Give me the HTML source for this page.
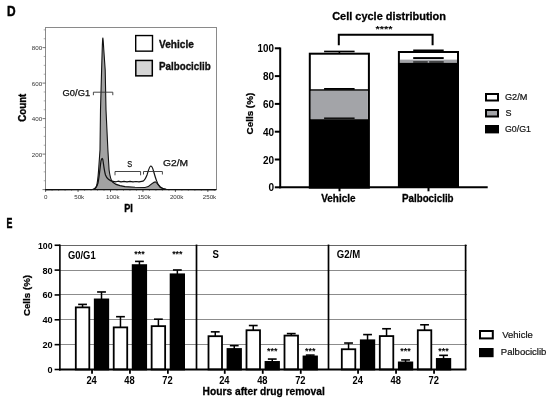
<!DOCTYPE html>
<html><head><meta charset="utf-8"><title>Cell cycle figure</title>
<style>
html,body{margin:0;padding:0;background:#fff;width:550px;height:399px;overflow:hidden;}
svg{display:block;}
text{font-family:"Liberation Sans", Arial, sans-serif;}
</style></head>
<body>
<svg width="550" height="399" viewBox="0 0 550 399">
<rect width="550" height="399" fill="#fff"/>
<g id="D">
<text x="6.9" y="15.9" font-size="14.2" font-weight="bold" text-anchor="start" fill="#000" textLength="8.6" lengthAdjust="spacingAndGlyphs" stroke="#000" stroke-width="0.45">D</text>
<rect x="45.5" y="27.5" width="171.0" height="162.1" fill="none" stroke="#8a8a8a" stroke-width="1"/>
<line x1="42.5" y1="189.60" x2="45.5" y2="189.60" stroke="#555" stroke-width="0.8"/>
<line x1="43.7" y1="180.72" x2="45.5" y2="180.72" stroke="#777" stroke-width="0.6"/>
<line x1="43.7" y1="171.85" x2="45.5" y2="171.85" stroke="#777" stroke-width="0.6"/>
<line x1="43.7" y1="162.97" x2="45.5" y2="162.97" stroke="#777" stroke-width="0.6"/>
<line x1="42.5" y1="154.10" x2="45.5" y2="154.10" stroke="#555" stroke-width="0.8"/>
<text x="42.2" y="156.7" font-size="6.2" text-anchor="end" fill="#333">200</text>
<line x1="43.7" y1="145.22" x2="45.5" y2="145.22" stroke="#777" stroke-width="0.6"/>
<line x1="43.7" y1="136.35" x2="45.5" y2="136.35" stroke="#777" stroke-width="0.6"/>
<line x1="43.7" y1="127.47" x2="45.5" y2="127.47" stroke="#777" stroke-width="0.6"/>
<line x1="42.5" y1="118.60" x2="45.5" y2="118.60" stroke="#555" stroke-width="0.8"/>
<text x="42.2" y="121.19999999999999" font-size="6.2" text-anchor="end" fill="#333">400</text>
<line x1="43.7" y1="109.72" x2="45.5" y2="109.72" stroke="#777" stroke-width="0.6"/>
<line x1="43.7" y1="100.85" x2="45.5" y2="100.85" stroke="#777" stroke-width="0.6"/>
<line x1="43.7" y1="91.97" x2="45.5" y2="91.97" stroke="#777" stroke-width="0.6"/>
<line x1="42.5" y1="83.10" x2="45.5" y2="83.10" stroke="#555" stroke-width="0.8"/>
<text x="42.2" y="85.69999999999999" font-size="6.2" text-anchor="end" fill="#333">600</text>
<line x1="43.7" y1="74.22" x2="45.5" y2="74.22" stroke="#777" stroke-width="0.6"/>
<line x1="43.7" y1="65.35" x2="45.5" y2="65.35" stroke="#777" stroke-width="0.6"/>
<line x1="43.7" y1="56.47" x2="45.5" y2="56.47" stroke="#777" stroke-width="0.6"/>
<line x1="42.5" y1="47.60" x2="45.5" y2="47.60" stroke="#555" stroke-width="0.8"/>
<text x="42.2" y="50.199999999999996" font-size="6.2" text-anchor="end" fill="#333">800</text>
<line x1="43.7" y1="38.72" x2="45.5" y2="38.72" stroke="#777" stroke-width="0.6"/>
<line x1="43.7" y1="29.85" x2="45.5" y2="29.85" stroke="#777" stroke-width="0.6"/>
<line x1="45.60" y1="189.6" x2="45.60" y2="191.9" stroke="#444" stroke-width="0.9"/>
<text x="45.8" y="198.8" font-size="6.2" text-anchor="middle" fill="#333">0</text>
<line x1="52.09" y1="189.6" x2="52.09" y2="191.0" stroke="#777" stroke-width="0.6"/>
<line x1="58.58" y1="189.6" x2="58.58" y2="191.0" stroke="#777" stroke-width="0.6"/>
<line x1="65.07" y1="189.6" x2="65.07" y2="191.0" stroke="#777" stroke-width="0.6"/>
<line x1="71.56" y1="189.6" x2="71.56" y2="191.0" stroke="#777" stroke-width="0.6"/>
<line x1="78.05" y1="189.6" x2="78.05" y2="191.9" stroke="#444" stroke-width="0.9"/>
<text x="79.2" y="198.8" font-size="6.2" text-anchor="middle" fill="#333">50k</text>
<line x1="84.54" y1="189.6" x2="84.54" y2="191.0" stroke="#777" stroke-width="0.6"/>
<line x1="91.03" y1="189.6" x2="91.03" y2="191.0" stroke="#777" stroke-width="0.6"/>
<line x1="97.52" y1="189.6" x2="97.52" y2="191.0" stroke="#777" stroke-width="0.6"/>
<line x1="104.01" y1="189.6" x2="104.01" y2="191.0" stroke="#777" stroke-width="0.6"/>
<line x1="110.50" y1="189.6" x2="110.50" y2="191.9" stroke="#444" stroke-width="0.9"/>
<text x="112.8" y="198.8" font-size="6.2" text-anchor="middle" fill="#333">100k</text>
<line x1="116.99" y1="189.6" x2="116.99" y2="191.0" stroke="#777" stroke-width="0.6"/>
<line x1="123.48" y1="189.6" x2="123.48" y2="191.0" stroke="#777" stroke-width="0.6"/>
<line x1="129.97" y1="189.6" x2="129.97" y2="191.0" stroke="#777" stroke-width="0.6"/>
<line x1="136.46" y1="189.6" x2="136.46" y2="191.0" stroke="#777" stroke-width="0.6"/>
<line x1="142.95" y1="189.6" x2="142.95" y2="191.9" stroke="#444" stroke-width="0.9"/>
<text x="144.1" y="198.8" font-size="6.2" text-anchor="middle" fill="#333">150k</text>
<line x1="149.44" y1="189.6" x2="149.44" y2="191.0" stroke="#777" stroke-width="0.6"/>
<line x1="155.93" y1="189.6" x2="155.93" y2="191.0" stroke="#777" stroke-width="0.6"/>
<line x1="162.42" y1="189.6" x2="162.42" y2="191.0" stroke="#777" stroke-width="0.6"/>
<line x1="168.91" y1="189.6" x2="168.91" y2="191.0" stroke="#777" stroke-width="0.6"/>
<line x1="175.40" y1="189.6" x2="175.40" y2="191.9" stroke="#444" stroke-width="0.9"/>
<text x="176.6" y="198.8" font-size="6.2" text-anchor="middle" fill="#333">200k</text>
<line x1="181.89" y1="189.6" x2="181.89" y2="191.0" stroke="#777" stroke-width="0.6"/>
<line x1="188.38" y1="189.6" x2="188.38" y2="191.0" stroke="#777" stroke-width="0.6"/>
<line x1="194.87" y1="189.6" x2="194.87" y2="191.0" stroke="#777" stroke-width="0.6"/>
<line x1="201.36" y1="189.6" x2="201.36" y2="191.0" stroke="#777" stroke-width="0.6"/>
<line x1="207.85" y1="189.6" x2="207.85" y2="191.9" stroke="#444" stroke-width="0.9"/>
<text x="209.5" y="198.8" font-size="6.2" text-anchor="middle" fill="#333">250k</text>
<line x1="214.34" y1="189.6" x2="214.34" y2="191.0" stroke="#777" stroke-width="0.6"/>
<path d="M45.6 189.6 L92 189.5 C94 189.4 95.6 188.5 96.5 186 C97.4 183.2 98 178 98.6 170 L100 150 L100.5 110 L101.6 70 L102.2 50 C102.4 43 102.6 38.5 102.85 38 C103.1 38.5 103.4 43 103.8 50 L105.2 70 L106 110 L107.9 150 L109.1 170 C110 177 110.8 180 112.5 182 C114 183.5 117 184.8 120 185.6 L125 186.6 L135 187.2 L145 187.5 C148 187.2 150 185.6 152 183.6 C154 182 154.8 181.8 155.5 181.9 C157 182.4 158 185 160 187.2 C162 188.6 164 189.4 167 189.6 L216 189.6 Z" fill="#a2a2a2" stroke="#111" stroke-width="1.1" stroke-linejoin="round"/>
<path d="M45.6 189.6 L93 189.5 C95.5 189.2 97 186.5 98 183 C99 179 100 168 101 161 C101.5 158.5 102.3 157.6 102.8 159.5 C103.5 163 104 170 105.5 175 C107 179 109.5 180.8 113 181.3 L116 181.8 L118 181.2 L121 181.9 L124 181.3 L127 181.9 L130 181.3 L133 181.8 L136 181.5 L139 181.8 L143 181.2 C145 180 146 177.5 147 175 C148.3 170.5 149.5 166.3 150.7 166 C152 165.9 152.7 168 153.5 171 C154.5 174.5 155.5 178 156.5 180.6 C157.5 183.5 158.5 185.5 160 186.6 C161.5 187.8 163 188.8 166 189.4 L216 189.6" fill="none" stroke="#111" stroke-width="1.2" stroke-linejoin="round"/>
<path d="M93.4 95.2 L93.4 92.2 L112.8 92.2 L112.8 95.2" fill="none" stroke="#333" stroke-width="0.9"/>
<path d="M115 175.3 L115 171.5 L140.6 171.5 L140.6 175.3" fill="none" stroke="#333" stroke-width="0.9"/>
<path d="M143.5 174.5 L143.5 171.5 L162.4 171.5 L162.4 174.5" fill="none" stroke="#333" stroke-width="0.9"/>
<text x="62.6" y="95.9" font-size="8.4" text-anchor="start" fill="#111" textLength="27.5" lengthAdjust="spacingAndGlyphs" stroke="#111" stroke-width="0.25">G0/G1</text>
<text x="127.2" y="166.5" font-size="8.6" text-anchor="start" fill="#111" textLength="4.9" lengthAdjust="spacingAndGlyphs" stroke="#111" stroke-width="0.25">S</text>
<text x="163.1" y="166.4" font-size="8.6" text-anchor="start" fill="#111" textLength="25" lengthAdjust="spacingAndGlyphs" stroke="#111" stroke-width="0.25">G2/M</text>
<rect x="135.7" y="35.55" width="16.8" height="15.6" fill="#fff" stroke="#000" stroke-width="1.4"/>
<rect x="135.8" y="60.45" width="16.5" height="15.4" fill="#d6d6d6" stroke="#000" stroke-width="1.5"/>
<text x="159" y="47.9" font-size="10.8" font-weight="bold" text-anchor="start" fill="#111" textLength="34.8" lengthAdjust="spacingAndGlyphs" stroke="#111" stroke-width="0.35">Vehicle</text>
<text x="159" y="70.1" font-size="10.8" font-weight="bold" text-anchor="start" fill="#111" textLength="51.7" lengthAdjust="spacingAndGlyphs" stroke="#111" stroke-width="0.35">Palbociclib</text>
<text x="124.3" y="211.7" font-size="10.5" font-weight="bold" text-anchor="start" fill="#000" textLength="8.6" lengthAdjust="spacingAndGlyphs" stroke="#000" stroke-width="0.35">PI</text>
<text transform="translate(25.7,121.7) rotate(-90)" font-size="10.5" font-weight="bold" stroke="#000" stroke-width="0.35" textLength="28" lengthAdjust="spacingAndGlyphs">Count</text>
</g>
<g id="CC">
<text x="332.2" y="20.3" font-size="11.3" font-weight="bold" text-anchor="start" fill="#000" textLength="113.8" lengthAdjust="spacingAndGlyphs" stroke="#000" stroke-width="0.3">Cell cycle distribution</text>
<text x="384" y="31.5" font-size="8.5" font-weight="bold" text-anchor="middle" fill="#000" textLength="17" lengthAdjust="spacingAndGlyphs">****</text>
<path d="M338.8 45.2 L338.8 34.8 L432.6 34.8 L432.6 45.2" fill="none" stroke="#000" stroke-width="2"/>
<rect x="309.8" y="53.7" width="59.1" height="134" fill="#fff" stroke="#000" stroke-width="2"/>
<rect x="310.8" y="90.8" width="57.1" height="28.6" fill="#a3a4a8"/>
<rect x="309.8" y="119.2" width="59.1" height="68" fill="#000"/>
<line x1="309.8" y1="90.05" x2="368.9" y2="90.05" stroke="#000" stroke-width="1.6"/>
<line x1="339.4" y1="51.4" x2="339.4" y2="53.7" stroke="#000" stroke-width="1.6"/>
<line x1="324.1" y1="51.45" x2="354.6" y2="51.45" stroke="#000" stroke-width="1.6"/>
<line x1="324.1" y1="88.9" x2="354.6" y2="88.9" stroke="#000" stroke-width="1.8"/>
<line x1="324.1" y1="118.2" x2="354.6" y2="118.2" stroke="#000" stroke-width="1.4"/>
<rect x="398.9" y="52.0" width="59.1" height="135" fill="#fff" stroke="#000" stroke-width="2"/>
<rect x="399.9" y="59.6" width="57.1" height="3.6" fill="#a3a4a8"/>
<rect x="398.9" y="62.9" width="59.1" height="125" fill="#000"/>
<line x1="428.4" y1="50.3" x2="428.4" y2="52" stroke="#000" stroke-width="1.6"/>
<line x1="413.2" y1="50.3" x2="443.7" y2="50.3" stroke="#000" stroke-width="1.6"/>
<line x1="413.2" y1="58.05" x2="443.7" y2="58.05" stroke="#000" stroke-width="1.9"/>
<line x1="413.2" y1="62.0" x2="427.7" y2="62.0" stroke="#111" stroke-width="1.3"/>
<line x1="429.2" y1="62.0" x2="443.7" y2="62.0" stroke="#111" stroke-width="1.3"/>
<line x1="280.2" y1="47.50" x2="280.2" y2="188.30" stroke="#000" stroke-width="2"/>
<line x1="279.2" y1="187.3" x2="487.7" y2="187.3" stroke="#000" stroke-width="2"/>
<line x1="274.8" y1="187.30" x2="280.2" y2="187.30" stroke="#000" stroke-width="2"/>
<text x="274" y="191.4" font-size="10" font-weight="bold" text-anchor="end" fill="#000" textLength="5.6" lengthAdjust="spacingAndGlyphs">0</text>
<line x1="274.8" y1="159.50" x2="280.2" y2="159.50" stroke="#000" stroke-width="2"/>
<text x="274" y="163.6" font-size="10" font-weight="bold" text-anchor="end" fill="#000" textLength="11.1" lengthAdjust="spacingAndGlyphs">20</text>
<line x1="274.8" y1="131.70" x2="280.2" y2="131.70" stroke="#000" stroke-width="2"/>
<text x="274" y="135.8" font-size="10" font-weight="bold" text-anchor="end" fill="#000" textLength="11.1" lengthAdjust="spacingAndGlyphs">40</text>
<line x1="274.8" y1="103.90" x2="280.2" y2="103.90" stroke="#000" stroke-width="2"/>
<text x="274" y="108.0" font-size="10" font-weight="bold" text-anchor="end" fill="#000" textLength="11.1" lengthAdjust="spacingAndGlyphs">60</text>
<line x1="274.8" y1="76.10" x2="280.2" y2="76.10" stroke="#000" stroke-width="2"/>
<text x="274" y="80.2" font-size="10" font-weight="bold" text-anchor="end" fill="#000" textLength="11.1" lengthAdjust="spacingAndGlyphs">80</text>
<line x1="274.8" y1="48.30" x2="280.2" y2="48.30" stroke="#000" stroke-width="2"/>
<text x="274" y="52.4" font-size="10" font-weight="bold" text-anchor="end" fill="#000" textLength="16.4" lengthAdjust="spacingAndGlyphs">100</text>
<line x1="339.5" y1="187.3" x2="339.5" y2="191.3" stroke="#000" stroke-width="2"/>
<line x1="428.5" y1="187.3" x2="428.5" y2="191.3" stroke="#000" stroke-width="2"/>
<text x="321.2" y="201.7" font-size="10.6" font-weight="bold" text-anchor="start" fill="#000" textLength="34.3" lengthAdjust="spacingAndGlyphs" stroke="#000" stroke-width="0.3">Vehicle</text>
<text x="402" y="201.7" font-size="10.6" font-weight="bold" text-anchor="start" fill="#000" textLength="51.6" lengthAdjust="spacingAndGlyphs" stroke="#000" stroke-width="0.3">Palbociclib</text>
<text transform="translate(252.5,134.4) rotate(-90)" font-size="9.6" font-weight="bold" stroke="#000" stroke-width="0.25" textLength="41.6" lengthAdjust="spacingAndGlyphs">Cells (%)</text>
<rect x="486" y="94" width="12" height="6.5" fill="#fff" stroke="#000" stroke-width="2"/>
<rect x="486" y="110" width="12" height="6.5" fill="#a3a4a8" stroke="#000" stroke-width="2"/>
<rect x="485" y="125" width="14" height="8.4" fill="#000"/>
<text x="505" y="99.9" font-size="9" text-anchor="start" fill="#111" textLength="22.4" lengthAdjust="spacingAndGlyphs" stroke="#111" stroke-width="0.2">G2/M</text>
<text x="505.4" y="115.9" font-size="9" text-anchor="start" fill="#111" stroke="#111" stroke-width="0.2">S</text>
<text x="505" y="131.9" font-size="9" text-anchor="start" fill="#111" textLength="26" lengthAdjust="spacingAndGlyphs" stroke="#111" stroke-width="0.2">G0/G1</text>
</g>
<g id="E">
<text x="6.6" y="228.2" font-size="14.3" font-weight="bold" text-anchor="start" fill="#000" textLength="5.9" lengthAdjust="spacingAndGlyphs" stroke="#000" stroke-width="0.5">E</text>
<line x1="59.9" y1="344.5" x2="467.0" y2="344.5" stroke="#8c8c8c" stroke-width="1"/>
<line x1="59.9" y1="319.5" x2="467.0" y2="319.5" stroke="#8c8c8c" stroke-width="1"/>
<line x1="59.9" y1="294.5" x2="467.0" y2="294.5" stroke="#8c8c8c" stroke-width="1"/>
<line x1="59.9" y1="270.5" x2="467.0" y2="270.5" stroke="#8c8c8c" stroke-width="1"/>
<line x1="59.9" y1="245.5" x2="467.0" y2="245.5" stroke="#666" stroke-width="1.2"/>
<line x1="82.55" y1="307.38" x2="82.55" y2="304.39" stroke="#000" stroke-width="1.5"/>
<line x1="78.15" y1="304.39" x2="86.95" y2="304.39" stroke="#000" stroke-width="1.6"/>
<rect x="75.80" y="307.38" width="13.50" height="62.12" fill="#fff" stroke="#000" stroke-width="1.8"/>
<line x1="101.51" y1="299.42" x2="101.51" y2="291.97" stroke="#000" stroke-width="1.5"/>
<line x1="97.11" y1="291.97" x2="105.91" y2="291.97" stroke="#000" stroke-width="1.6"/>
<rect x="94.76" y="299.42" width="13.50" height="70.08" fill="#000" stroke="#000" stroke-width="1.8"/>
<line x1="120.47" y1="327.38" x2="120.47" y2="316.69" stroke="#000" stroke-width="1.5"/>
<line x1="116.07" y1="316.69" x2="124.87" y2="316.69" stroke="#000" stroke-width="1.6"/>
<rect x="113.72" y="327.38" width="13.50" height="42.12" fill="#fff" stroke="#000" stroke-width="1.8"/>
<line x1="139.43" y1="265.13" x2="139.43" y2="261.40" stroke="#000" stroke-width="1.5"/>
<line x1="135.03" y1="261.40" x2="143.83" y2="261.40" stroke="#000" stroke-width="1.6"/>
<rect x="132.68" y="265.13" width="13.50" height="104.37" fill="#000" stroke="#000" stroke-width="1.8"/>
<text x="139.43" y="257.1" font-size="8.5" font-weight="bold" text-anchor="middle" fill="#000" textLength="10.4" lengthAdjust="spacingAndGlyphs">***</text>
<line x1="158.39" y1="326.14" x2="158.39" y2="319.18" stroke="#000" stroke-width="1.5"/>
<line x1="153.99" y1="319.18" x2="162.79" y2="319.18" stroke="#000" stroke-width="1.6"/>
<rect x="151.64" y="326.14" width="13.50" height="43.36" fill="#fff" stroke="#000" stroke-width="1.8"/>
<line x1="177.35" y1="274.32" x2="177.35" y2="269.98" stroke="#000" stroke-width="1.5"/>
<line x1="172.95" y1="269.98" x2="181.75" y2="269.98" stroke="#000" stroke-width="1.6"/>
<rect x="170.60" y="274.32" width="13.50" height="95.18" fill="#000" stroke="#000" stroke-width="1.8"/>
<text x="177.35" y="257.1" font-size="8.5" font-weight="bold" text-anchor="middle" fill="#000" textLength="10.4" lengthAdjust="spacingAndGlyphs">***</text>
<line x1="92.03" y1="369.5" x2="92.03" y2="373.8" stroke="#000" stroke-width="1.8"/>
<text x="91.63" y="383.5" font-size="10.2" font-weight="bold" text-anchor="middle" fill="#000" textLength="10.4" lengthAdjust="spacingAndGlyphs">24</text>
<line x1="129.95" y1="369.5" x2="129.95" y2="373.8" stroke="#000" stroke-width="1.8"/>
<text x="129.55" y="383.5" font-size="10.2" font-weight="bold" text-anchor="middle" fill="#000" textLength="10.4" lengthAdjust="spacingAndGlyphs">48</text>
<line x1="167.87" y1="369.5" x2="167.87" y2="373.8" stroke="#000" stroke-width="1.8"/>
<text x="167.47" y="383.5" font-size="10.2" font-weight="bold" text-anchor="middle" fill="#000" textLength="10.4" lengthAdjust="spacingAndGlyphs">72</text>
<line x1="215.25" y1="336.20" x2="215.25" y2="331.85" stroke="#000" stroke-width="1.5"/>
<line x1="210.85" y1="331.85" x2="219.65" y2="331.85" stroke="#000" stroke-width="1.6"/>
<rect x="208.50" y="336.20" width="13.50" height="33.30" fill="#fff" stroke="#000" stroke-width="1.8"/>
<line x1="234.25" y1="349.00" x2="234.25" y2="345.64" stroke="#000" stroke-width="1.5"/>
<line x1="229.85" y1="345.64" x2="238.65" y2="345.64" stroke="#000" stroke-width="1.6"/>
<rect x="227.50" y="349.00" width="13.50" height="20.50" fill="#000" stroke="#000" stroke-width="1.8"/>
<line x1="253.25" y1="330.24" x2="253.25" y2="325.52" stroke="#000" stroke-width="1.5"/>
<line x1="248.85" y1="325.52" x2="257.65" y2="325.52" stroke="#000" stroke-width="1.6"/>
<rect x="246.50" y="330.24" width="13.50" height="39.26" fill="#fff" stroke="#000" stroke-width="1.8"/>
<line x1="272.25" y1="361.92" x2="272.25" y2="359.06" stroke="#000" stroke-width="1.5"/>
<line x1="267.85" y1="359.06" x2="276.65" y2="359.06" stroke="#000" stroke-width="1.6"/>
<rect x="265.50" y="361.92" width="13.50" height="7.58" fill="#000" stroke="#000" stroke-width="1.8"/>
<text x="272.25" y="353.6" font-size="8.5" font-weight="bold" text-anchor="middle" fill="#000" textLength="10.4" lengthAdjust="spacingAndGlyphs">***</text>
<line x1="291.25" y1="335.58" x2="291.25" y2="333.59" stroke="#000" stroke-width="1.5"/>
<line x1="286.85" y1="333.59" x2="295.65" y2="333.59" stroke="#000" stroke-width="1.6"/>
<rect x="284.50" y="335.58" width="13.50" height="33.92" fill="#fff" stroke="#000" stroke-width="1.8"/>
<line x1="310.25" y1="356.45" x2="310.25" y2="355.09" stroke="#000" stroke-width="1.5"/>
<line x1="305.85" y1="355.09" x2="314.65" y2="355.09" stroke="#000" stroke-width="1.6"/>
<rect x="303.50" y="356.45" width="13.50" height="13.05" fill="#000" stroke="#000" stroke-width="1.8"/>
<text x="310.25" y="353.6" font-size="8.5" font-weight="bold" text-anchor="middle" fill="#000" textLength="10.4" lengthAdjust="spacingAndGlyphs">***</text>
<line x1="224.75" y1="369.5" x2="224.75" y2="373.8" stroke="#000" stroke-width="1.8"/>
<text x="224.35" y="383.5" font-size="10.2" font-weight="bold" text-anchor="middle" fill="#000" textLength="10.4" lengthAdjust="spacingAndGlyphs">24</text>
<line x1="262.75" y1="369.5" x2="262.75" y2="373.8" stroke="#000" stroke-width="1.8"/>
<text x="262.35" y="383.5" font-size="10.2" font-weight="bold" text-anchor="middle" fill="#000" textLength="10.4" lengthAdjust="spacingAndGlyphs">48</text>
<line x1="300.75" y1="369.5" x2="300.75" y2="373.8" stroke="#000" stroke-width="1.8"/>
<text x="300.35" y="383.5" font-size="10.2" font-weight="bold" text-anchor="middle" fill="#000" textLength="10.4" lengthAdjust="spacingAndGlyphs">72</text>
<line x1="348.55" y1="349.25" x2="348.55" y2="343.03" stroke="#000" stroke-width="1.5"/>
<line x1="344.15" y1="343.03" x2="352.95" y2="343.03" stroke="#000" stroke-width="1.6"/>
<rect x="341.80" y="349.25" width="13.50" height="20.25" fill="#fff" stroke="#000" stroke-width="1.8"/>
<line x1="367.55" y1="340.30" x2="367.55" y2="334.59" stroke="#000" stroke-width="1.5"/>
<line x1="363.15" y1="334.59" x2="371.95" y2="334.59" stroke="#000" stroke-width="1.6"/>
<rect x="360.80" y="340.30" width="13.50" height="29.20" fill="#000" stroke="#000" stroke-width="1.8"/>
<line x1="386.55" y1="336.08" x2="386.55" y2="328.75" stroke="#000" stroke-width="1.5"/>
<line x1="382.15" y1="328.75" x2="390.95" y2="328.75" stroke="#000" stroke-width="1.6"/>
<rect x="379.80" y="336.08" width="13.50" height="33.42" fill="#fff" stroke="#000" stroke-width="1.8"/>
<line x1="405.55" y1="362.42" x2="405.55" y2="359.93" stroke="#000" stroke-width="1.5"/>
<line x1="401.15" y1="359.93" x2="409.95" y2="359.93" stroke="#000" stroke-width="1.6"/>
<rect x="398.80" y="362.42" width="13.50" height="7.08" fill="#000" stroke="#000" stroke-width="1.8"/>
<text x="405.55" y="353.8" font-size="8.5" font-weight="bold" text-anchor="middle" fill="#000" textLength="10.4" lengthAdjust="spacingAndGlyphs">***</text>
<line x1="424.55" y1="330.24" x2="424.55" y2="324.77" stroke="#000" stroke-width="1.5"/>
<line x1="420.15" y1="324.77" x2="428.95" y2="324.77" stroke="#000" stroke-width="1.6"/>
<rect x="417.80" y="330.24" width="13.50" height="39.26" fill="#fff" stroke="#000" stroke-width="1.8"/>
<line x1="443.55" y1="358.94" x2="443.55" y2="355.34" stroke="#000" stroke-width="1.5"/>
<line x1="439.15" y1="355.34" x2="447.95" y2="355.34" stroke="#000" stroke-width="1.6"/>
<rect x="436.80" y="358.94" width="13.50" height="10.56" fill="#000" stroke="#000" stroke-width="1.8"/>
<text x="443.55" y="353.8" font-size="8.5" font-weight="bold" text-anchor="middle" fill="#000" textLength="10.4" lengthAdjust="spacingAndGlyphs">***</text>
<line x1="358.05" y1="369.5" x2="358.05" y2="373.8" stroke="#000" stroke-width="1.8"/>
<text x="357.65" y="383.5" font-size="10.2" font-weight="bold" text-anchor="middle" fill="#000" textLength="10.4" lengthAdjust="spacingAndGlyphs">24</text>
<line x1="396.05" y1="369.5" x2="396.05" y2="373.8" stroke="#000" stroke-width="1.8"/>
<text x="395.65" y="383.5" font-size="10.2" font-weight="bold" text-anchor="middle" fill="#000" textLength="10.4" lengthAdjust="spacingAndGlyphs">48</text>
<line x1="434.05" y1="369.5" x2="434.05" y2="373.8" stroke="#000" stroke-width="1.8"/>
<text x="433.65" y="383.5" font-size="10.2" font-weight="bold" text-anchor="middle" fill="#000" textLength="10.4" lengthAdjust="spacingAndGlyphs">72</text>
<line x1="196.5" y1="244.55" x2="196.5" y2="369.5" stroke="#000" stroke-width="1.7"/>
<line x1="328.5" y1="244.55" x2="328.5" y2="369.5" stroke="#000" stroke-width="1.7"/>
<line x1="465.6" y1="244.55" x2="465.6" y2="369.5" stroke="#000" stroke-width="1.7"/>
<line x1="59.9" y1="244.55" x2="59.9" y2="370.5" stroke="#000" stroke-width="1.6"/>
<line x1="59.1" y1="369.5" x2="466.40000000000003" y2="369.5" stroke="#000" stroke-width="1.8"/>
<line x1="54.6" y1="369.50" x2="59.9" y2="369.50" stroke="#000" stroke-width="1.6"/>
<text x="52.6" y="372.9" font-size="9" font-weight="bold" text-anchor="end" fill="#000" textLength="5.1" lengthAdjust="spacingAndGlyphs">0</text>
<line x1="54.6" y1="344.65" x2="59.9" y2="344.65" stroke="#000" stroke-width="1.6"/>
<text x="52.6" y="348.05" font-size="9" font-weight="bold" text-anchor="end" fill="#000" textLength="10.2" lengthAdjust="spacingAndGlyphs">20</text>
<line x1="54.6" y1="319.80" x2="59.9" y2="319.80" stroke="#000" stroke-width="1.6"/>
<text x="52.6" y="323.2" font-size="9" font-weight="bold" text-anchor="end" fill="#000" textLength="10.2" lengthAdjust="spacingAndGlyphs">40</text>
<line x1="54.6" y1="294.95" x2="59.9" y2="294.95" stroke="#000" stroke-width="1.6"/>
<text x="52.6" y="298.35" font-size="9" font-weight="bold" text-anchor="end" fill="#000" textLength="10.2" lengthAdjust="spacingAndGlyphs">60</text>
<line x1="54.6" y1="270.10" x2="59.9" y2="270.10" stroke="#000" stroke-width="1.6"/>
<text x="52.6" y="273.5" font-size="9" font-weight="bold" text-anchor="end" fill="#000" textLength="10.2" lengthAdjust="spacingAndGlyphs">80</text>
<line x1="54.6" y1="245.25" x2="59.9" y2="245.25" stroke="#000" stroke-width="1.6"/>
<text x="52.6" y="248.65" font-size="9" font-weight="bold" text-anchor="end" fill="#000" textLength="14.6" lengthAdjust="spacingAndGlyphs">100</text>
<text x="68" y="259.1" font-size="10.5" font-weight="bold" text-anchor="start" fill="#000" textLength="27.6" lengthAdjust="spacingAndGlyphs">G0/G1</text>
<text x="212.5" y="257.8" font-size="10.5" font-weight="bold" text-anchor="start" fill="#000" textLength="6.4" lengthAdjust="spacingAndGlyphs">S</text>
<text x="336.8" y="258" font-size="10.5" font-weight="bold" text-anchor="start" fill="#000" textLength="23.3" lengthAdjust="spacingAndGlyphs">G2/M</text>
<text x="202.6" y="394.8" font-size="11.5" font-weight="bold" text-anchor="start" fill="#000" textLength="122.2" lengthAdjust="spacingAndGlyphs" stroke="#000" stroke-width="0.3">Hours after drug removal</text>
<text transform="translate(29.5,316.1) rotate(-90)" font-size="9.6" font-weight="bold" stroke="#000" stroke-width="0.25" textLength="41.2" lengthAdjust="spacingAndGlyphs">Cells (%)</text>
<rect x="480" y="331" width="12.8" height="7.4" fill="#fff" stroke="#000" stroke-width="2"/>
<rect x="479" y="348" width="14.6" height="9.2" fill="#000"/>
<text x="502.3" y="338.1" font-size="9.4" text-anchor="start" fill="#111" textLength="30.5" lengthAdjust="spacingAndGlyphs" stroke="#111" stroke-width="0.2">Vehicle</text>
<text x="500.8" y="354.9" font-size="9.4" text-anchor="start" fill="#111" textLength="45.6" lengthAdjust="spacingAndGlyphs" stroke="#111" stroke-width="0.2">Palbociclib</text>
</g>
</svg>
</body></html>
